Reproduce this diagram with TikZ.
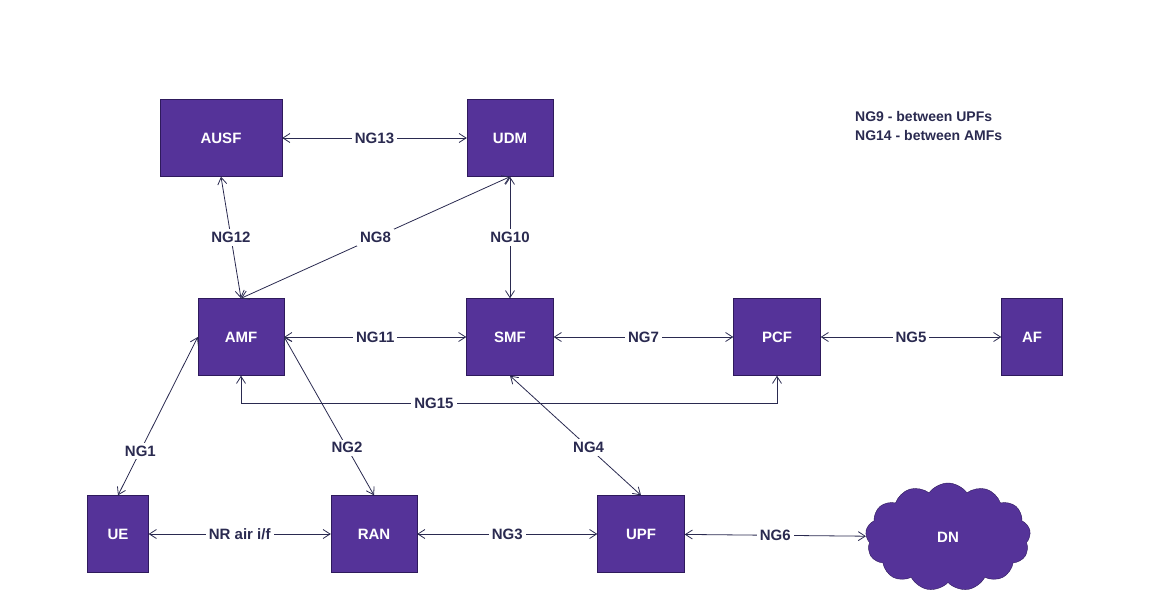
\documentclass[tikz,border=0pt]{standalone}
\usepackage{fontspec}
\setmainfont{Liberation Sans}
\usetikzlibrary{arrows.meta,shapes.symbols}
\definecolor{nf}{HTML}{553399}
\definecolor{nb}{HTML}{2E1A5C}
\definecolor{lb}{HTML}{2A2A50}
\begin{document}
\begin{tikzpicture}[x=1pt,y=-1pt,
  box/.style={draw=nb,fill=nf,text=white,font=\fontsize{15}{18}\selectfont\bfseries,minimum width=#1,minimum height=77pt,inner sep=0},
  lbl/.style={fill=white,text=lb,font=\fontsize{15}{18}\selectfont\bfseries,inner sep=3pt},
  con/.style={draw=lb,line width=0.8pt,{Straight Barb[length=7pt,width=9pt]}-{Straight Barb[length=7pt,width=9pt]}}]
\useasboundingbox (0,0) rectangle (1171,614);
\node[box=122pt] (ausf) at (221,138) {AUSF};
\node[box=86pt] (udm) at (510,138) {UDM};
\node[box=86pt] (amf) at (241,337) {AMF};
\node[box=87pt] (smf) at (510,337) {SMF};
\node[box=87pt] (pcf) at (777,337) {PCF};
\node[box=61pt] (af) at (1032,337) {AF};
\node[box=61pt] (ue) at (118,534) {UE};
\node[box=86pt] (ran) at (374,534) {RAN};
\node[box=87pt] (upf) at (641,534) {UPF};
\node[cloud,cloud puffs=13,cloud puff arc=110,aspect=1.5,draw=nb,fill=nf,text=white,font=\fontsize{15}{18}\selectfont\bfseries,minimum width=165pt,minimum height=108pt] (dn) at (948,537) {DN};
\coordinate (c1) at (241,403);
\coordinate (c2) at (777,403);
\draw[con] (ausf) -- node[lbl]{NG13} (udm);
\draw[con] (ausf.south) -- node[lbl]{NG12} (amf.north);
\draw[con] (udm.south) -- node[lbl]{NG8} (amf.north);
\draw[con] (udm) -- node[lbl]{NG10} (smf);
\draw[con] (amf) -- node[lbl]{NG11} (smf);
\draw[con] (smf) -- node[lbl]{NG7} (pcf);
\draw[con] (pcf) -- node[lbl]{NG5} (af);
\draw[con] (amf.south) -- (c1) -- node[lbl,pos=0.36]{NG15} (c2) -- (pcf.south);
\draw[con] (ue.north) -- node[lbl,pos=0.28]{NG1} (amf.west);
\draw[con] (amf.east) -- node[lbl,pos=0.7]{NG2} (ran.north);
\draw[con] (smf.south) -- node[lbl,pos=0.6]{NG4} (upf.north);
\draw[con] (ue) -- node[lbl]{NR air i/f} (ran);
\draw[con] (ran) -- node[lbl]{NG3} (upf);
\draw[con] (upf) -- node[lbl]{NG6} (dn);
\node[lbl,anchor=north west,align=left,font=\fontsize{14}{19}\selectfont\bfseries] (leg) at (852,108) {NG9 - between UPFs\\NG14 - between AMFs};
\end{tikzpicture}
\end{document}
